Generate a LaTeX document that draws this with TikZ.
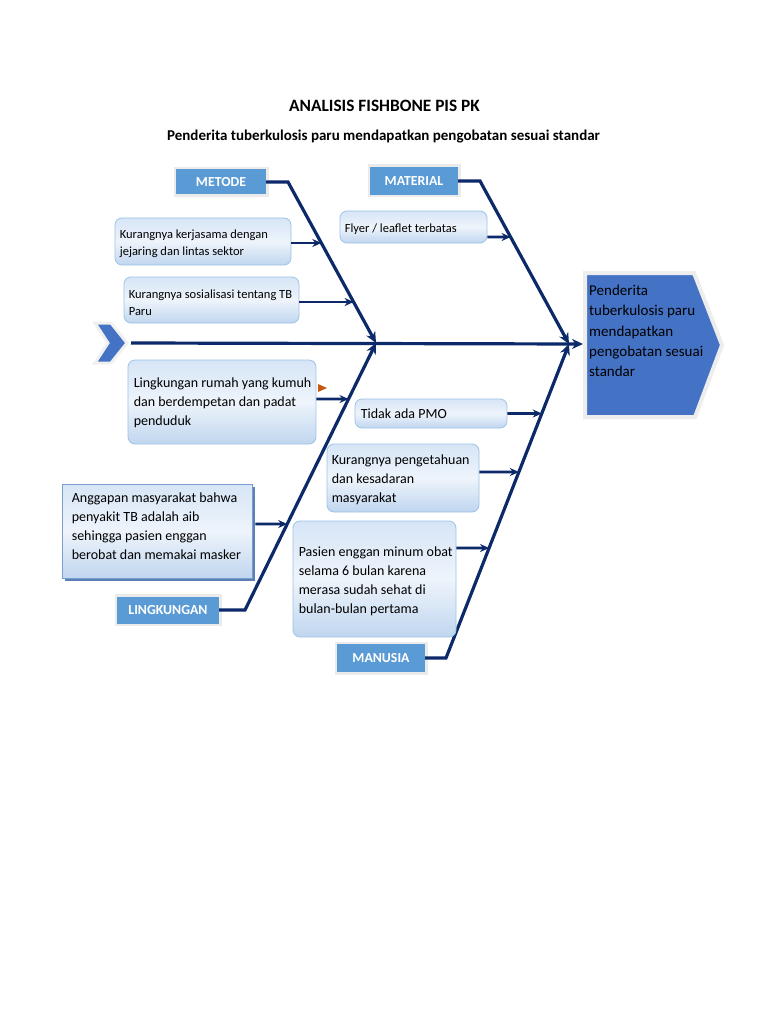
\documentclass[tikz,border=0pt]{standalone}
\usepackage{fontspec}
\setmainfont{Carlito}
\usetikzlibrary{arrows.meta,shadows,calc}
\definecolor{navy}{HTML}{0C2A6A}
\definecolor{catblue}{HTML}{5B9BD5}
\definecolor{headblue}{HTML}{4472C4}
\definecolor{boxline}{HTML}{9DC3E6}
\definecolor{boxtop}{HTML}{D6E5F6}
\definecolor{boxmid}{HTML}{EEF4FB}
\definecolor{boxbot}{HTML}{C0D6EF}
\definecolor{marker}{HTML}{C55A11}
\definecolor{shadowblue}{HTML}{3F6AA8}
\tikzset{
  catbox/.style={fill=catblue, text=white, inner sep=0pt,
    font=\fontsize{13.8}{16}\selectfont\bfseries,
    preaction={draw=black!8, line width=5pt}},
  causebox/.style={rounded corners=7pt, draw=boxline, line width=0.8pt,
    top color=boxtop, bottom color=boxbot, middle color=boxmid, inner sep=0pt},
  boxtext/.style={anchor=west, align=left, inner sep=0pt},
  smalltxt/.style={font=\fontsize{12.5}{17}\selectfont},
  bigtxt/.style={font=\fontsize{14}{19}\selectfont},
  bone/.style={draw=navy, line width=3.2pt, line join=miter,
    -{Stealth[length=11pt,width=10pt]}},
  twig/.style={draw=navy, line width=2.6pt,
    -{Stealth[length=9pt,width=8pt]}},
}
\begin{document}
\begin{tikzpicture}[x=1pt,y=-1pt]
\useasboundingbox[fill=white] (0,0) rectangle (768,1024);

% titles
\node[font=\fontsize{17.3}{20}\selectfont\bfseries] (title) at (384.5,105.5) {ANALISIS FISHBONE PIS PK};
\node[font=\fontsize{15}{18}\selectfont\bfseries] (subtitle) at (383.5,137) {Penderita tuberkulosis paru mendapatkan pengobatan sesuai standar};

% head
\draw[draw=black!7, line width=4pt, fill=headblue]
  (585,273) -- (694,273) -- (722,345) -- (695,417) -- (585,417) -- cycle;
\node[anchor=north west, inner sep=0pt, align=left,
  font=\fontsize{15}{20.3}\selectfont] (head) at (589,285)
  {Penderita\\tuberkulosis paru\\mendapatkan\\pengobatan sesuai\\standar};
\coordinate (headwest) at (583,344);

% tail chevron
\draw[draw=black!6, line width=3pt, fill=headblue]
  (95,323) -- (111,323) -- (127,343) -- (111,363) -- (95,363) -- (108,343) -- cycle;
\coordinate (tail) at (131,343);

% spine
\draw[bone] (tail) -- (headwest);

% joints
\coordinate (j1) at (376,343);
\coordinate (j2) at (569,344);
\coordinate (m1) at (288,182);
\coordinate (m2) at (480,181);
\coordinate (m3) at (245,610);
\coordinate (m4) at (446,658);

% category boxes
\node[catbox, minimum width=90pt, minimum height=25pt] (metode) at (221,182) {METODE};
\node[catbox, minimum width=88pt, minimum height=28pt] (material) at (414,181) {MATERIAL};
\node[catbox, minimum width=102pt, minimum height=27pt] (lingkungan) at (168,610) {LINGKUNGAN};
\node[catbox, minimum width=88pt, minimum height=28pt] (manusia) at (381,658) {MANUSIA};

\draw[bone] (metode.east) -- (m1) -- (j1);
\draw[bone] (material.east) -- (m2) -- (j2);
\draw[bone] (lingkungan.east) -- (m3) -- (j1);
\draw[bone] (manusia.east) -- (m4) -- (j2);

% cause boxes
\node[causebox, minimum width=176pt, minimum height=47pt] (c1) at (203,241.5) {};
\node[boxtext, smalltxt] (t1) at ([xshift=5pt,yshift=-2pt]c1.west) {Kurangnya kerjasama dengan\\jejaring dan lintas sektor};
\node[causebox, minimum width=175pt, minimum height=46pt] (c2) at (211.5,300) {};
\node[boxtext, smalltxt] (t2) at ([xshift=5pt,yshift=-3pt]c2.west) {Kurangnya sosialisasi tentang TB\\Paru};
\node[causebox, minimum width=147pt, minimum height=32pt] (c3) at (413.5,227) {};
\node[boxtext, smalltxt] (t3) at ([xshift=5pt,yshift=-2pt]c3.west) {Flyer / leaflet terbatas};
\node[causebox, minimum width=188pt, minimum height=84pt] (c4) at (222,402) {};
\node[boxtext, bigtxt] (t4) at ([xshift=6pt,yshift=-1pt]c4.west) {Lingkungan rumah yang kumuh\\dan berdempetan dan padat\\penduduk};
\node[causebox, minimum width=152pt, minimum height=29pt] (c5) at (431,413.5) {};
\node[boxtext, bigtxt] (t5) at ([xshift=6pt]c5.west) {Tidak ada PMO};
\node[causebox, minimum width=152pt, minimum height=68pt] (c6) at (403,478) {};
\node[boxtext, bigtxt] (t6) at ([xshift=5pt,yshift=-2pt]c6.west) {Kurangnya pengetahuan\\dan kesadaran\\masyarakat};
\node[causebox, rounded corners=0pt, draw=headblue!70, minimum width=190pt, minimum height=94pt,
  drop shadow={shadow xshift=3pt, shadow yshift=-3pt, fill=shadowblue, opacity=0.85}] (c7) at (157,531) {};
\node[boxtext, bigtxt] (t7) at ([xshift=10pt,yshift=5pt]c7.west) {Anggapan masyarakat bahwa\\penyakit TB adalah aib\\sehingga pasien enggan\\berobat dan memakai masker};
\node[causebox, minimum width=163pt, minimum height=116pt] (c8) at (374.5,579) {};
\node[boxtext, bigtxt] (t8) at ([xshift=6pt,yshift=-2pt]c8.west) {Pasien enggan minum obat\\selama 6 bulan karena\\merasa sudah sehat di\\bulan-bulan pertama};

% twig starts
\coordinate (s1) at ([yshift=-1.5pt]c1.east);
\coordinate (s2) at ([yshift=-2pt]c2.east);
\coordinate (s3) at ([yshift=-10pt]c3.east);
\coordinate (s4) at ([yshift=3pt]c4.east);
\coordinate (s5) at (c5.east);
\coordinate (s6) at ([yshift=6pt]c6.east);
\coordinate (s7) at ([yshift=7pt,xshift=3pt]c7.east);
\coordinate (s8) at ([yshift=31pt]c8.east);

\draw[twig] (s1) -- (intersection cs: first line={(m1)--(j1)}, second line={(s1)--([xshift=10pt]s1)});
\draw[twig] (s2) -- (intersection cs: first line={(m1)--(j1)}, second line={(s2)--([xshift=10pt]s2)});
\draw[twig] (s3) -- (intersection cs: first line={(m2)--(j2)}, second line={(s3)--([xshift=10pt]s3)});
\draw[twig] (s4) -- (intersection cs: first line={(m3)--(j1)}, second line={(s4)--([xshift=10pt]s4)});
\draw[twig] (s5) -- (intersection cs: first line={(m4)--(j2)}, second line={(s5)--([xshift=10pt]s5)});
\draw[twig] (s6) -- (intersection cs: first line={(m4)--(j2)}, second line={(s6)--([xshift=10pt]s6)});
\draw[twig] (s7) -- (intersection cs: first line={(m3)--(j1)}, second line={(s7)--([xshift=10pt]s7)});
\draw[twig] (s8) -- (intersection cs: first line={(m4)--(j2)}, second line={(s8)--([xshift=10pt]s8)});

% small orange marker
\fill[marker] (318,384) -- (327,388) -- (318,392) -- cycle;
\end{tikzpicture}
\end{document}
